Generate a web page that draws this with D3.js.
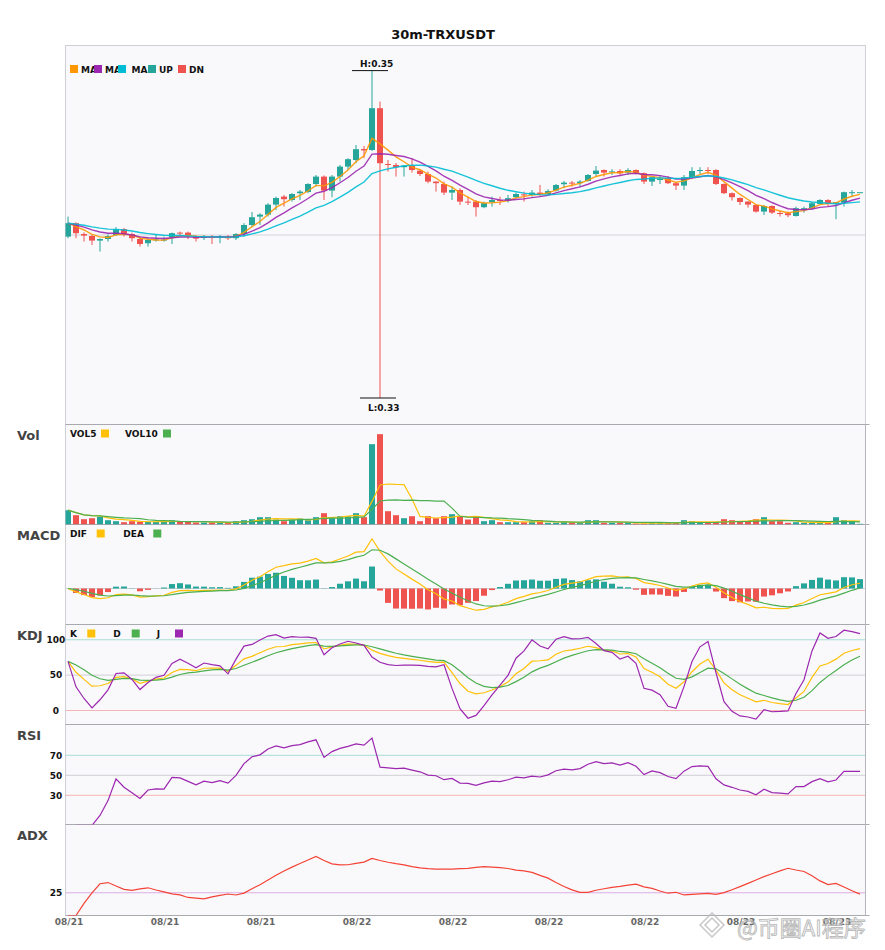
<!DOCTYPE html>
<html><head><meta charset="utf-8">
<script src="https://cdn.jsdelivr.net/npm/d3@7/dist/d3.min.js"></script>
<style>body{margin:0;background:#fff;} svg{display:block;font-family:"DejaVu Sans",sans-serif;}</style>
</head><body><svg id="c" width="885" height="950"></svg>
<script>
// ---------------- data (30m TRXUSDT candles) ----------------
const opens = [0.33807,0.33874,0.33820,0.33810,0.33787,0.33795,0.33815,0.33844,0.33820,0.33795,
0.33774,0.33789,0.33790,0.33804,0.33827,0.33827,0.33807,0.33800,0.33807,0.33802,
0.33807,0.33799,0.33820,0.33865,0.33907,0.33917,0.33967,0.34007,0.33990,0.34024,
0.34030,0.34070,0.34107,0.34037,0.34107,0.34157,0.34190,0.34245,0.34240,0.34449,
0.34170,0.34165,0.34154,0.34160,0.34137,0.34120,0.34082,0.34070,0.34027,0.34040,
0.33982,0.33982,0.33954,0.33979,0.33990,0.33987,0.34004,0.34018,0.34015,0.34027,
0.34020,0.34037,0.34069,0.34077,0.34074,0.34085,0.34120,0.34140,0.34129,0.34135,
0.34127,0.34140,0.34124,0.34082,0.34092,0.34099,0.34074,0.34062,0.34104,0.34138,
0.34140,0.34140,0.34070,0.34024,0.34000,0.33982,0.33965,0.33932,0.33960,0.33925,
0.33924,0.33910,0.33940,0.33949,0.33970,0.33990,0.33975,0.33977,0.34027,0.34028];
const highs = [0.33907,0.33878,0.33828,0.33818,0.33798,0.33818,0.33854,0.33850,0.33827,0.33807,
0.33799,0.33819,0.33807,0.33827,0.33832,0.33832,0.33815,0.33815,0.33815,0.33815,
0.33815,0.33824,0.33874,0.33930,0.33924,0.33974,0.34007,0.34015,0.34024,0.34040,
0.34074,0.34115,0.34113,0.34115,0.34165,0.34199,0.34265,0.34260,0.34637,0.34482,
0.34190,0.34175,0.34165,0.34200,0.34145,0.34132,0.34085,0.34082,0.34057,0.34049,
0.34007,0.33990,0.33982,0.34007,0.34007,0.34015,0.34027,0.34032,0.34040,0.34065,
0.34044,0.34070,0.34085,0.34085,0.34090,0.34120,0.34160,0.34143,0.34144,0.34144,
0.34149,0.34143,0.34128,0.34105,0.34115,0.34110,0.34078,0.34115,0.34154,0.34154,
0.34154,0.34144,0.34073,0.34028,0.34003,0.33985,0.33968,0.33965,0.33963,0.33937,
0.33932,0.33957,0.33957,0.33979,0.33994,0.33994,0.33980,0.34032,0.34040,0.34029];
const lows = [0.33799,0.33799,0.33782,0.33765,0.33732,0.33782,0.33810,0.33807,0.33782,0.33757,
0.33757,0.33782,0.33782,0.33770,0.33807,0.33794,0.33782,0.33790,0.33770,0.33774,
0.33790,0.33790,0.33807,0.33854,0.33865,0.33907,0.33940,0.33957,0.33982,0.33990,
0.34024,0.34057,0.33990,0.34004,0.34082,0.34140,0.34174,0.34199,0.34235,0.33000,
0.34132,0.34107,0.34107,0.34127,0.34110,0.34074,0.34032,0.34015,0.33990,0.33965,
0.33965,0.33907,0.33949,0.33957,0.33965,0.33977,0.33999,0.33982,0.34007,0.34007,
0.34010,0.34032,0.34049,0.34057,0.34054,0.34082,0.34110,0.34107,0.34115,0.34114,
0.34115,0.34118,0.34070,0.34060,0.34070,0.34070,0.34040,0.34040,0.34101,0.34120,
0.34120,0.34065,0.34020,0.33987,0.33965,0.33952,0.33927,0.33915,0.33920,0.33907,
0.33904,0.33907,0.33927,0.33940,0.33968,0.33957,0.33894,0.33957,0.34005,0.34028];
const closes = [0.33874,0.33824,0.33812,0.33787,0.33795,0.33810,0.33844,0.33820,0.33799,0.33770,
0.33790,0.33793,0.33792,0.33824,0.33822,0.33810,0.33797,0.33807,0.33802,0.33807,
0.33799,0.33820,0.33865,0.33904,0.33917,0.33967,0.34000,0.33994,0.34020,0.34032,
0.34070,0.34107,0.34037,0.34107,0.34157,0.34194,0.34244,0.34238,0.34449,0.34174,
0.34165,0.34154,0.34162,0.34140,0.34120,0.34082,0.34074,0.34027,0.34040,0.33982,
0.33978,0.33954,0.33974,0.33990,0.33985,0.33999,0.34020,0.34013,0.34027,0.34020,
0.34035,0.34065,0.34077,0.34073,0.34082,0.34115,0.34137,0.34127,0.34133,0.34123,
0.34140,0.34124,0.34082,0.34104,0.34095,0.34074,0.34062,0.34104,0.34135,0.34140,
0.34138,0.34070,0.34024,0.34004,0.33980,0.33967,0.33932,0.33960,0.33927,0.33922,
0.33914,0.33949,0.33949,0.33974,0.33990,0.33970,0.33979,0.34029,0.34029,0.34029];
// volume in millions
const volumes = [7.15,4.65,2.65,3.15,3.85,2.15,1.65,1.15,1.65,1.35,
1.35,1.35,1.35,2.15,1.35,1.35,1.0,1.0,1.0,0.85,
0.85,1.65,2.15,2.65,3.65,3.65,2.5,1.65,2.5,3.0,
2.15,3.65,5.65,3.15,4.15,4.15,5.65,3.65,40.15,45.15,
6.65,4.65,3.15,4.15,1.65,4.15,3.15,4.15,5.15,4.15,
2.5,4.15,1.65,2.15,1.15,1.15,1.15,1.15,1.65,2.15,
0.85,0.85,1.15,0.85,0.85,2.15,2.15,0.85,0.85,0.85,
0.85,0.5,0.5,0.85,0.85,0.85,0.85,2.15,1.65,0.85,
0.85,0.85,2.65,2.15,1.65,1.65,2.65,3.65,1.65,1.65,
0.85,1.15,0.85,0.85,0.85,0.85,3.65,2.15,1.35,0.35];
const refPrice = 0.33815;
const maPeriods = [5, 10, 20];
const macdParams = [6, 13, 5];
const xTickIndex = [0, 12, 24, 36, 48, 60, 72, 84, 96];
const xTickLabels = ['08/21','08/21','08/21','08/22','08/22','08/22','08/22','08/23','08/23'];
const kdjTicks = [100, 50, 0];
const rsiTicks = [70, 50, 30];
const adxTicks = [25];

// ---------------- indicators (derived from the candles) ----------------
const N = closes.length;
function sma(a, n){ return a.map((_, i) => d3.mean(a.slice(Math.max(0, i-n+1), i+1))); }
// weighted MA, window padded with the first value
function wma(a, n){ return a.map((_, i) => { let s=0, w=0; for(let k=1;k<=n;k++){ const j=i-n+k; s+=k*a[Math.max(0,j)]; w+=k; } return s/w; }); }
function ema(a, alpha){ const o=[]; a.forEach((v,i)=>{ o.push(i===0? v : alpha*v + (1-alpha)*o[i-1]); }); return o; }
const maLines = maPeriods.map(p => wma(closes, p));
const vol5 = sma(volumes, 5), vol10 = sma(volumes, 10);
const emaF = ema(closes, 2/(macdParams[0]+1)), emaS = ema(closes, 2/(macdParams[1]+1));
const dif = emaF.map((v,i)=>v-emaS[i]);
const dea = ema(dif, 2/(macdParams[2]+1));
const hist = dif.map((v,i)=>2*(v-dea[i]));
// KDJ 9,3,3
const rsv = closes.map((c,i)=>{ const lo=d3.min(lows.slice(Math.max(0,i-8),i+1)), hi=d3.max(highs.slice(Math.max(0,i-8),i+1)); return hi===lo?50:(c-lo)/(hi-lo)*100; });
const K = ema(rsv, 1/3), D = ema(K, 1/3), J = K.map((k,i)=>3*k-2*D[i]);
// RSI 14
const rsi = closes.map(()=>null);
(function(){ const a=1/14; let gn=0, ln=0;
  for(let i=1;i<N;i++){ const d=closes[i]-closes[i-1]; gn=gn*(1-a)+Math.max(d,0); ln=ln*(1-a)+Math.max(-d,0);
    rsi[i] = (gn+ln)===0?50:100*gn/(gn+ln); } })();
// ADX 14
const adx = (function(){ const a=2/15; let pdm=0, mdm=0, tr=highs[0]-lows[0], ad=0; const out=[0];
  for(let i=1;i<N;i++){ const up=highs[i]-highs[i-1], dn=lows[i-1]-lows[i];
    const p=(up>dn && up>0)?up:0, m=(dn>up && dn>0)?dn:0;
    const t=Math.max(highs[i]-lows[i], Math.abs(highs[i]-closes[i-1]), Math.abs(lows[i]-closes[i-1]));
    pdm=a*p+(1-a)*pdm; mdm=a*m+(1-a)*mdm; tr=a*t+(1-a)*tr;
    const pdi=100*pdm/tr, mdi=100*mdm/tr; const dx=(pdi+mdi)===0?0:100*Math.abs(pdi-mdi)/(pdi+mdi);
    ad=a*dx+(1-a)*ad; out.push(ad); }
  return out; })();

// ---------------- layout ----------------
const svg = d3.select('#c');
const L = 65.5, R = 865.5;
const P = {main:[45.5,424.5], vol:[424.5,524.5], macd:[524.5,624.5], kdj:[624.5,724.5], rsi:[724.5,824.5], adx:[824.5,915.5]};
const UP='#26a69a', DN='#ef5350';
const x = d3.scaleLinear().domain([0, N-1]).range([68, 860]);
svg.append('rect').attr('width',885).attr('height',950).attr('fill','#fff');

const defs = svg.append('defs');
Object.entries(P).forEach(([k,[t,b]])=>{
  defs.append('clipPath').attr('id','clip-'+k).append('rect').attr('x',L).attr('y',t).attr('width',R-L).attr('height',b-t);
  svg.append('rect').attr('x',L).attr('y',t).attr('width',R-L).attr('height',b-t).attr('fill','#f9f9fb').attr('stroke','#cfcfd6').attr('stroke-width',1);
});
['vol','macd','kdj','rsi','adx'].forEach(k=>{
  svg.append('line').attr('x1',L).attr('x2',R+4).attr('y1',P[k][0]).attr('y2',P[k][0]).attr('stroke','#a9a9b0');
});
svg.append('line').attr('x1',L).attr('x2',R+4).attr('y1',P.adx[1]).attr('y2',P.adx[1]).attr('stroke','#a9a9b0');
svg.append('line').attr('x1',R).attr('x2',R).attr('y1',P.vol[0]).attr('y2',P.adx[1]).attr('stroke','#b5b5bc');

function g(k){ return svg.append('g').attr('clip-path','url(#clip-'+k+')'); }

// title
svg.append('text').attr('x',443).attr('y',39).attr('text-anchor','middle').attr('font-size',13).attr('font-weight','bold').attr('fill','#111').text('30m-TRXUSDT');

// ---------------- main panel ----------------
const y = d3.scaleLinear().domain([0.33, 0.35]).range([398, -2]);
const gm = g('main');
gm.append('line').attr('x1',L).attr('x2',R).attr('y1',y(refPrice)).attr('y2',y(refPrice)).attr('stroke','#d6d6dc').attr('stroke-width',1);
const cand = gm.selectAll('g.c').data(d3.range(N)).join('g');
cand.append('line').attr('x1',i=>x(i)).attr('x2',i=>x(i)).attr('y1',i=>y(highs[i])).attr('y2',i=>y(lows[i]))
  .attr('stroke',i=>closes[i]>=opens[i]?UP:DN).attr('stroke-width',1);
cand.append('rect').attr('x',i=>x(i)-3).attr('width',6)
  .attr('y',i=>y(Math.max(opens[i],closes[i])))
  .attr('height',i=>Math.max(1, Math.abs(y(opens[i])-y(closes[i]))))
  .attr('fill',i=>closes[i]>=opens[i]?UP:DN);
const maColors = ['#ff9800','#9c27b0','#00bcd4'];
maLines.forEach((arr,k)=>{
  gm.append('path').datum(arr).attr('fill','none').attr('stroke',maColors[k]).attr('stroke-width',1.4).attr('stroke-opacity',0.9)
    .attr('d', d3.line().x((d,i)=>x(i)).y(d=>y(d)));
});
// high / low markers
const hi = d3.maxIndex(highs), lo = d3.minIndex(lows);
svg.append('line').attr('x1',x(hi)-20).attr('x2',x(hi)+16).attr('y1',y(highs[hi])).attr('y2',y(highs[hi])).attr('stroke','#111');
svg.append('text').attr('x',x(hi)-12).attr('y',y(highs[hi])-4).attr('font-size',9).attr('font-weight','bold').attr('fill','#111').text('H:'+highs[hi].toFixed(2));
svg.append('line').attr('x1',x(lo)-20).attr('x2',x(lo)+16).attr('y1',y(lows[lo])).attr('y2',y(lows[lo])).attr('stroke','#111');
svg.append('text').attr('x',x(lo)-12).attr('y',y(lows[lo])+12.5).attr('font-size',9).attr('font-weight','bold').attr('fill','#111').text('L:'+lows[lo].toFixed(2));
// main legend (square then label, labels cut by next square)
const mainLeg = [{t:'MA5',c:maColors[0],sx:70,tx:81},{t:'MA10',c:maColors[1],sx:94,tx:105},{t:'MA20',c:maColors[2],sx:118,tx:131.5},{t:'UP',c:UP,sx:148,tx:159},{t:'DN',c:DN,sx:178,tx:189}];
mainLeg.forEach((d,k)=>{
  const end = k<mainLeg.length-1? mainLeg[k+1].sx : 240;
  defs.append('clipPath').attr('id','lc'+k).append('rect').attr('x',d.tx).attr('y',55).attr('width',end-d.tx).attr('height',25);
  svg.append('rect').attr('x',d.sx).attr('y',65).attr('width',8).attr('height',8).attr('fill',d.c);
  svg.append('text').attr('x',d.tx).attr('y',73).attr('font-size',9).attr('font-weight','bold').attr('fill','#111').attr('clip-path','url(#lc'+k+')').text(d.t);
});

// ---------------- sub-panel helpers ----------------
function panelLabel(k, t){ svg.append('text').attr('x',17).attr('y',P[k][0]+15).attr('font-size',13).attr('font-weight','bold').attr('fill','#444').text(t); }
function legend(k, items){ items.forEach(d=>{
  svg.append('text').attr('x',d.tx).attr('y',P[k][0]+12.5).attr('font-size',9).attr('font-weight','bold').attr('fill','#111').text(d.t);
  svg.append('rect').attr('x',d.sx).attr('y',P[k][0]+5).attr('width',8).attr('height',8).attr('fill',d.c); }); }
function hline(k, ys, v, color){ g(k).append('line').attr('x1',L).attr('x2',R).attr('y1',ys(v)).attr('y2',ys(v)).attr('stroke',color).attr('stroke-width',1); }
function tickLabel(ys, v){ svg.append('text').attr('x',56).attr('y',ys(v)+3.2).attr('text-anchor','middle').attr('font-size',9).attr('font-weight','bold').attr('fill','#111').text(v); }
function linePath(k, arr, ys, color, w){ g(k).append('path').datum(arr).attr('fill','none').attr('stroke',color).attr('stroke-width',w||1.2)
  .attr('d', d3.line().defined(d=>d!==null && !isNaN(d)).x((d,i)=>x(i)).y(d=>ys(d))); }

// Vol
panelLabel('vol','Vol');
const yv = d3.scaleLinear().domain([0, d3.max(volumes)*1.107]).range([P.vol[1], P.vol[0]]);
g('vol').selectAll('rect').data(d3.range(N)).join('rect').attr('x',i=>x(i)-3).attr('width',6)
  .attr('y',i=>yv(volumes[i])).attr('height',i=>yv(0)-yv(volumes[i])).attr('fill',i=>closes[i]>=opens[i]?UP:DN);
linePath('vol', vol5, yv, '#ffc107', 1.2);
linePath('vol', vol10, yv, '#4caf50', 1.2);
legend('vol',[{t:'VOL5',tx:70,sx:101,c:'#ffc107'},{t:'VOL10',tx:125,sx:163,c:'#4caf50'}]);

// MACD
panelLabel('macd','MACD');
const mAll = dif.concat(dea, hist); const mn=d3.min(mAll), mx=d3.max(mAll), pad=(mx-mn)*0.2;
const ym = d3.scaleLinear().domain([mn-pad, mx+pad]).range([P.macd[1], P.macd[0]]);
hline('macd', ym, 0, '#cfcfd6');
g('macd').selectAll('rect').data(d3.range(N)).join('rect').attr('x',i=>x(i)-3).attr('width',6)
  .attr('y',i=>Math.min(ym(hist[i]),ym(0))).attr('height',i=>Math.abs(ym(hist[i])-ym(0))).attr('fill',i=>hist[i]>=0?UP:DN);
linePath('macd', dif, ym, '#ffc107', 1.2);
linePath('macd', dea, ym, '#4caf50', 1.2);
legend('macd',[{t:'DIF',tx:70,sx:96.7,c:'#ffc107'},{t:'DEA',tx:123.3,sx:153.3,c:'#4caf50'}]);

// KDJ
panelLabel('kdj','KDJ');
const yk = d3.scaleLinear().domain([-19.8, 121.6]).range([P.kdj[1], P.kdj[0]]);
hline('kdj', yk, 100, '#a8dcd6'); hline('kdj', yk, 50, '#cfcfd6'); hline('kdj', yk, 0, '#f5b5b5');
kdjTicks.forEach(v=>tickLabel(yk, v));
linePath('kdj', K, yk, '#ffc107', 1.2);
linePath('kdj', D, yk, '#4caf50', 1.2);
linePath('kdj', J, yk, '#9c27b0', 1.2);
legend('kdj',[{t:'K',tx:70,sx:87.3,c:'#ffc107'},{t:'D',tx:113.3,sx:131.7,c:'#4caf50'},{t:'J',tx:156.7,sx:175,c:'#9c27b0'}]);

// RSI
panelLabel('rsi','RSI');
const yr = d3.scaleLinear().domain([0, 100]).range([825.3, 725.3]);
hline('rsi', yr, 70, '#a8dcd6'); hline('rsi', yr, 50, '#cfcfd6'); hline('rsi', yr, 30, '#f5b5b5');
rsiTicks.forEach(v=>tickLabel(yr, v));
linePath('rsi', rsi, yr, '#9c27b0', 1.2);

// ADX
panelLabel('adx','ADX');
const ya = d3.scaleLinear().domain([0, 100]).range([P.adx[1], P.adx[1]-91]);
hline('adx', ya, 25, '#dcaee6');
adxTicks.forEach(v=>tickLabel(ya, v));
linePath('adx', adx, ya, '#f44336', 1.2);

// x axis labels
xTickIndex.forEach((ix,k)=>{
  svg.append('text').attr('x',x(ix)+1).attr('y',925).attr('text-anchor','middle').attr('font-size',9).attr('font-weight','bold').attr('fill','#666').text(xTickLabels[k]);
});

// watermark (overlays the bottom-right corner as in the source image)
const wm = svg.append('g').attr('opacity',0.8);
wm.append('path').attr('d','M712,913 L724,925 L712,937 L700,925 Z M712,918 L719,925 L712,932 L705,925 Z').attr('fill','none').attr('stroke','#bbb').attr('stroke-width',1.5);
wm.append('text').attr('x',737).attr('y',936).attr('font-size',22).attr('font-family','"Noto Sans CJK SC",sans-serif')
  .attr('fill','rgba(255,255,255,0.8)').attr('stroke','#aaa').attr('stroke-width',0.9).text('@币圈AI程序');
</script></body></html>
